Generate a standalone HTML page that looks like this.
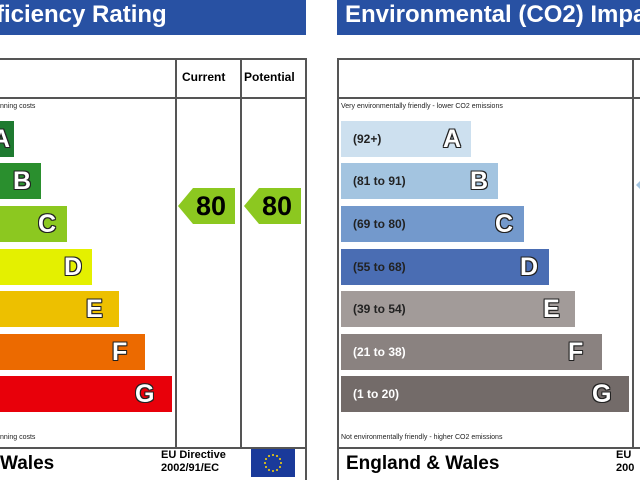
<!DOCTYPE html>
<html><head><meta charset="utf-8"><style>
html,body{margin:0;width:640px;height:480px;overflow:hidden}
body{background:#fff;font-family:"Liberation Sans",sans-serif;position:relative}
div{position:absolute;box-sizing:border-box}
.hdr{background:#2851a3;color:#fff;font-weight:bold;font-size:24px;top:0;height:35px;line-height:30px;white-space:nowrap;overflow:hidden}
.ln{background:#555}
.bar{height:36px}
.L{font-weight:bold;font-size:25px;color:#fff;line-height:36px;text-shadow:-1px -1px 0 #222,1px -1px 0 #222,-1px 1px 0 #222,1px 1px 0 #222,0 1px 0 #222,0 -1px 0 #222,1px 0 0 #222,-1px 0 0 #222}
.t{font-size:12px;font-weight:bold;line-height:36px;color:#222;left:12px;white-space:nowrap}
.sm{font-size:7px;color:#222;white-space:nowrap}
</style></head><body>
<div class="hdr" style="left:0;width:306px"><span style="position:absolute;left:-4px;top:0">ficiency Rating</span></div>
<div class="hdr" style="left:337px;width:303px"><span style="position:absolute;left:8px;top:0">Environmental (CO2) Impact</span></div>

<div class="ln" style="left:0;top:58px;width:307px;height:2px"></div>
<div class="ln" style="left:0;top:97px;width:307px;height:2px"></div>
<div class="ln" style="left:0;top:447px;width:307px;height:2px"></div>
<div class="ln" style="left:305px;top:58px;width:2px;height:422px"></div>
<div class="ln" style="left:175px;top:58px;width:2px;height:390px"></div>
<div class="ln" style="left:240px;top:58px;width:2px;height:390px"></div>
<div style="left:182px;top:70px;font-size:12px;font-weight:bold">Current</div>
<div style="left:244px;top:70px;font-size:12px;font-weight:bold">Potential</div>
<div class="sm" style="left:0;top:103px">nning costs</div>
<div class="sm" style="left:0;top:434px">nning costs</div>
<div style="left:0;top:453px;font-size:19px;font-weight:bold">Wales</div>
<div style="left:161px;top:449px;font-size:11px;font-weight:bold;line-height:13px;white-space:nowrap">EU Directive<br>2002/91/EC</div>
<div style="left:251px;top:449px;width:44px;height:28px;background:#1a3a9a"><svg width="44" height="28"><g fill="#ffd800"><circle cx="22" cy="6" r="1"/><circle cx="26" cy="7" r="1"/><circle cx="29" cy="10" r="1"/><circle cx="30" cy="14" r="1"/><circle cx="29" cy="18" r="1"/><circle cx="26" cy="21" r="1"/><circle cx="22" cy="22" r="1"/><circle cx="18" cy="21" r="1"/><circle cx="15" cy="18" r="1"/><circle cx="14" cy="14" r="1"/><circle cx="15" cy="10" r="1"/><circle cx="18" cy="7" r="1"/></g></svg></div>

<div class="bar" style="left:0;top:121px;width:14px;background:#1e7a30"></div><div class="L" style="left:-8px;top:121px">A</div>
<div class="bar" style="left:0;top:163px;width:41px;background:#2a8f2e"></div><div class="L" style="left:13px;top:163px">B</div>
<div class="bar" style="left:0;top:206px;width:67px;background:#8cc820"></div><div class="L" style="left:38px;top:206px">C</div>
<div class="bar" style="left:0;top:249px;width:92px;background:#e4f000"></div><div class="L" style="left:64px;top:249px">D</div>
<div class="bar" style="left:0;top:291px;width:119px;background:#edc000"></div><div class="L" style="left:86px;top:291px">E</div>
<div class="bar" style="left:0;top:334px;width:145px;background:#ec6a00"></div><div class="L" style="left:112px;top:334px">F</div>
<div class="bar" style="left:0;top:376px;width:172px;background:#e8000a"></div><div class="L" style="left:135px;top:376px">G</div>

<svg style="position:absolute;left:0;top:0" width="640" height="480">
<polygon points="178,206 193,188 235,188 235,224 193,224" fill="#8cc820"/>
<polygon points="244,206 259,188 301,188 301,224 259,224" fill="#8cc820"/>
<polygon points="636,185 640,181 640,189" fill="#a3c4e0"/>
</svg>
<div style="left:196px;top:190px;font-size:27px;font-weight:bold;line-height:32px">80</div>
<div style="left:262px;top:190px;font-size:27px;font-weight:bold;line-height:32px">80</div>

<div class="ln" style="left:337px;top:58px;width:303px;height:2px"></div>
<div class="ln" style="left:337px;top:97px;width:303px;height:2px"></div>
<div class="ln" style="left:337px;top:447px;width:303px;height:2px"></div>
<div class="ln" style="left:337px;top:58px;width:2px;height:422px"></div>
<div class="ln" style="left:632px;top:58px;width:2px;height:390px"></div>
<div class="sm" style="left:341px;top:103px">Very environmentally friendly - lower CO2 emissions</div>
<div class="sm" style="left:341px;top:434px">Not environmentally friendly - higher CO2 emissions</div>
<div style="left:346px;top:453px;font-size:19px;font-weight:bold;white-space:nowrap">England &amp; Wales</div>
<div style="left:616px;top:449px;width:24px;overflow:hidden;font-size:11px;font-weight:bold;line-height:13px;white-space:nowrap">EU<br>200</div>

<div class="bar" style="left:341px;top:121px;width:130px;background:#cde0ef"><div class="t">(92+)</div></div><div class="L" style="left:443px;top:121px">A</div>
<div class="bar" style="left:341px;top:163px;width:157px;background:#a3c4e0"><div class="t">(81 to 91)</div></div><div class="L" style="left:470px;top:163px">B</div>
<div class="bar" style="left:341px;top:206px;width:183px;background:#7399cc"><div class="t">(69 to 80)</div></div><div class="L" style="left:495px;top:206px">C</div>
<div class="bar" style="left:341px;top:249px;width:208px;background:#4a6db3"><div class="t">(55 to 68)</div></div><div class="L" style="left:520px;top:249px">D</div>
<div class="bar" style="left:341px;top:291px;width:234px;background:#a29b99"><div class="t">(39 to 54)</div></div><div class="L" style="left:543px;top:291px">E</div>
<div class="bar" style="left:341px;top:334px;width:261px;background:#8a8280"><div class="t" style="color:#fff">(21 to 38)</div></div><div class="L" style="left:568px;top:334px">F</div>
<div class="bar" style="left:341px;top:376px;width:288px;background:#736b69"><div class="t" style="color:#fff">(1 to 20)</div></div><div class="L" style="left:592px;top:376px">G</div>
</body></html>
